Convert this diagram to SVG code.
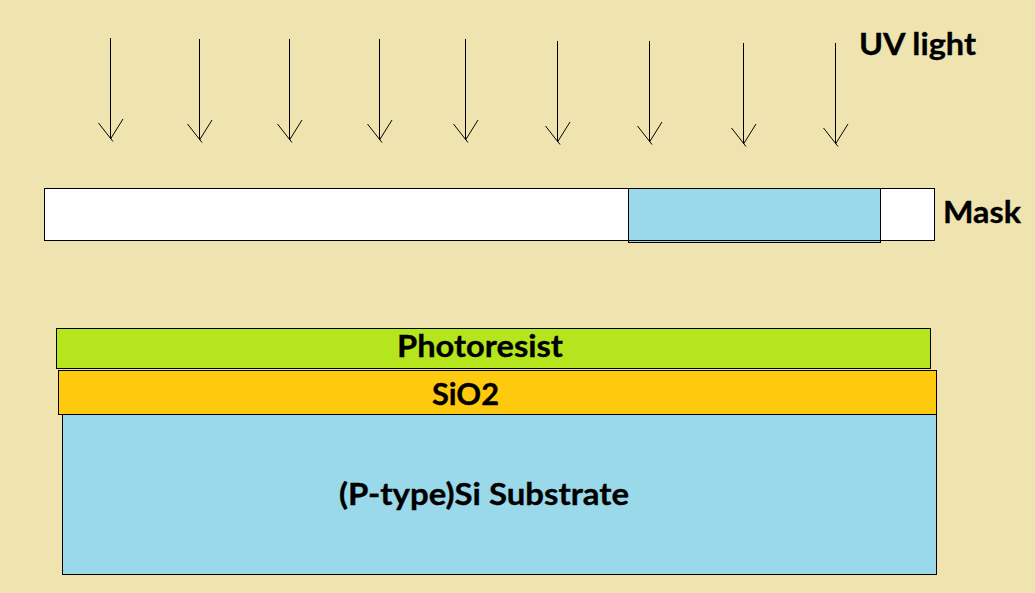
<svg xmlns="http://www.w3.org/2000/svg" width="1035" height="593" viewBox="0 0 1035 593">
<style>
.box{stroke:#000;stroke-width:1}
.lbl{font-family:Lato,"Liberation Sans",sans-serif;font-weight:700;font-size:31px;fill:#000;stroke:#000;stroke-width:.35}
.shaft{stroke:#000;stroke-width:1;fill:none}
.head{stroke:#000;stroke-width:1;fill:none}
</style>
<defs>
<g id="arrow">
<path class="shaft" d="M0 0V100"/>
<path class="head" d="M-12 85L2.500 103.500M12.500 81L0 101"/>
</g>
</defs>
<rect width="1035" height="593" fill="#efe4b0"/>
<g id="connectors">
<use href="#arrow" x="110.500" y="38"/>
<use href="#arrow" x="199.500" y="39"/>
<use href="#arrow" x="289.500" y="39"/>
<use href="#arrow" x="379.500" y="39"/>
<use href="#arrow" x="465.500" y="39"/>
<use href="#arrow" x="557.500" y="41"/>
<use href="#arrow" x="649.500" y="41"/>
<use href="#arrow" x="743.500" y="43"/>
<use href="#arrow" x="835.500" y="43"/>
</g>
<g id="uv-label"><text class="lbl" x="859" y="55" textLength="117" lengthAdjust="spacingAndGlyphs">UV light</text></g>
<g id="mask">
<rect class="box" x="44.500" y="188.500" width="890" height="52" fill="#fff"/>
<rect class="box" x="628.500" y="188.500" width="252" height="54" fill="#99d9ea"/>
<path class="box" d="M628.500 240.500H880.500" fill="none"/>
<text class="lbl" x="943" y="223" textLength="78" lengthAdjust="spacingAndGlyphs">Mask</text>
</g>
<g id="substrate">
<rect class="box" x="62.500" y="414.500" width="874" height="160" fill="#99d9ea"/>
<text class="lbl" x="339" y="505" textLength="290" lengthAdjust="spacingAndGlyphs">(P-type)Si Substrate</text>
</g>
<g id="sio2">
<rect class="box" x="58.500" y="370.500" width="878" height="44" fill="#ffc90e"/>
<text class="lbl" x="432" y="405" textLength="67" lengthAdjust="spacingAndGlyphs">SiO2</text>
</g>
<g id="photoresist">
<rect class="box" x="56.500" y="328.500" width="874" height="40" fill="#b5e61d"/>
<text class="lbl" x="397" y="357" textLength="166" lengthAdjust="spacingAndGlyphs">Photoresist</text>
</g>
</svg>
